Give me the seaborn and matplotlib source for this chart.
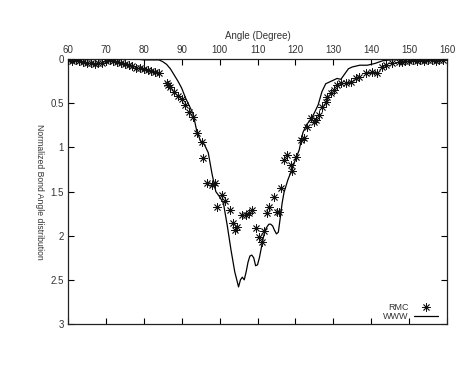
import numpy as np
import pandas as pd
import seaborn as sns
import matplotlib
matplotlib.use("Agg")
import matplotlib.pyplot as plt
from matplotlib.ticker import FuncFormatter

# WWW model curve (angle in degrees, normalized distribution)
www_angle = [60, 65, 70, 75, 78, 80, 82, 84, 85, 86, 87, 88, 89, 90, 91, 92, 93, 94, 95, 96, 97,
             98, 99, 100, 101, 102, 103, 104, 105, 105.5, 106, 106.5, 107, 107.5, 108, 108.5, 109,
             109.5, 110, 110.5, 111, 111.5, 112, 112.5, 113, 113.5, 114, 114.5, 115, 115.5, 116,
             116.5, 117, 118, 119, 120, 121, 122, 123, 124, 125, 126, 127, 128, 129, 130, 131,
             132, 133, 134, 135, 137, 139, 141, 143, 145, 150, 155, 160]
www_value = [0.0, 0.0, 0.0, 0.0, 0.0, 0.01, 0.01, 0.01, 0.03, 0.06, 0.11, 0.18, 0.25, 0.33, 0.44,
             0.53, 0.62, 0.82, 0.93, 0.97, 1.06, 1.30, 1.50, 1.56, 1.63, 1.88, 2.16, 2.41, 2.58,
             2.50, 2.47, 2.50, 2.41, 2.30, 2.23, 2.22, 2.25, 2.34, 2.33, 2.25, 2.14, 2.03, 1.94,
             1.90, 1.87, 1.87, 1.89, 1.94, 1.98, 1.96, 1.80, 1.63, 1.51, 1.37, 1.26, 1.14, 1.03,
             0.83, 0.74, 0.69, 0.61, 0.52, 0.37, 0.28, 0.26, 0.24, 0.22, 0.23, 0.17, 0.11, 0.09,
             0.07, 0.07, 0.05, 0.02, 0.01, 0.005, 0.0, 0.0]

# RMC results
rmc_angle = [60, 61, 62, 63, 64, 65, 66, 67, 68, 69, 70, 71, 72, 73, 74, 75, 76, 77, 78, 79, 80,
             81, 82, 83, 84, 86.1, 86.4, 87, 88, 89, 90, 91, 92, 93, 94, 95.3, 95.6, 96.7, 98,
             98.8, 99.4, 100.6, 101.4, 102.7, 103.5, 104, 104.5, 105.8, 107, 107.8, 108.6, 109.7,
             110.5, 111.3, 111.7, 112.4, 113, 114.3, 115.1, 115.6, 116.1, 117.1, 117.8, 118.8,
             119.1, 120.2, 121.5, 122.3, 123.1, 124.1, 125, 125.4, 126.2, 127, 128, 128.4, 129.3,
             130.1, 131, 132, 133.3, 134.6, 136, 136.8, 138.6, 140.2, 141.5, 142.8, 143.9, 145.5,
             147.3, 148, 149, 150, 151, 152, 153, 154, 155, 156, 157, 158, 159]
rmc_value = [0.01, 0.02, 0.01, 0.02, 0.03, 0.05, 0.04, 0.06, 0.05, 0.04, 0.02, 0.01, 0.02, 0.03,
             0.04, 0.06, 0.07, 0.08, 0.10, 0.10, 0.11, 0.12, 0.14, 0.15, 0.16, 0.27, 0.29, 0.32,
             0.37, 0.42, 0.45, 0.52, 0.60, 0.66, 0.84, 0.94, 1.12, 1.40, 1.43, 1.40, 1.68, 1.54,
             1.61, 1.71, 1.86, 1.94, 1.90, 1.77, 1.77, 1.74, 1.71, 1.91, 2.02, 2.07, 1.95, 1.74,
             1.68, 1.56, 1.73, 1.73, 1.46, 1.14, 1.09, 1.20, 1.27, 1.11, 0.92, 0.89, 0.77, 0.67,
             0.71, 0.69, 0.63, 0.54, 0.49, 0.43, 0.39, 0.35, 0.29, 0.27, 0.27, 0.26, 0.22, 0.20,
             0.16, 0.15, 0.16, 0.09, 0.07, 0.05, 0.03, 0.03, 0.02, 0.02, 0.01, 0.02, 0.01, 0.02,
             0.01, 0.01, 0.02, 0.01, 0.01]

x_ticks = [60, 70, 80, 90, 100, 110, 120, 130, 140, 150, 160]
y_ticks = [0, 0.5, 1, 1.5, 2, 2.5, 3]

sns.set_style("ticks")
plt.rcParams["font.family"] = ["Liberation Sans", "DejaVu Sans"]
text_color = "#333333"

fig = plt.figure(figsize=(4.74, 3.65), dpi=100)
ax = fig.add_axes([0.1435, 0.1123, 0.7995, 0.7260])

rmc_df = pd.DataFrame({"angle": rmc_angle, "value": rmc_value})
www_df = pd.DataFrame({"angle": www_angle, "value": www_value})

sns.scatterplot(data=rmc_df, x="angle", y="value", marker=(8, 2, 0), s=30,
                color="#111111", edgecolor="#111111", linewidth=0.6, ax=ax, label="RMC",
                legend=False, zorder=3)
sns.lineplot(data=www_df, x="angle", y="value", color="black", linewidth=0.9, ax=ax,
             label="WWW", legend=False, zorder=2)

ax.set_xlim(60, 160)
ax.set_ylim(3, 0)
ax.set_xticks(x_ticks)
ax.set_yticks(y_ticks)
ax.yaxis.set_major_formatter(FuncFormatter(lambda v, p: f"{v:g}"))
ax.xaxis.tick_top()
ax.xaxis.set_label_position("top")
ax.tick_params(direction="in", top=True, bottom=True, left=True, right=True,
               length=4, width=0.8, labelsize=7, colors="black", labelcolor=text_color,
               pad=3)
for s in ax.spines.values():
    s.set_linewidth(0.9)
    s.set_color("#222222")

ax.set_xlabel("Angle (Degree)", fontsize=7, color=text_color, labelpad=4)
ax.set_ylabel("Normalized Bond Angle distribution", fontsize=6.2, color=text_color,
              rotation=-90, labelpad=11, va="bottom")

handles, labels = ax.get_legend_handles_labels()
order = [labels.index("RMC"), labels.index("WWW")]
leg = ax.legend([handles[i] for i in order], [labels[i] for i in order],
                loc="lower right", bbox_to_anchor=(0.99, -0.008), frameon=False,
                markerfirst=False, fontsize=6.5, handlelength=2.6, handletextpad=0.6,
                labelspacing=0.0, borderaxespad=0.2)
for t in leg.get_texts():
    t.set_color(text_color)

fig.savefig("out.png", dpi=100, facecolor="white")
